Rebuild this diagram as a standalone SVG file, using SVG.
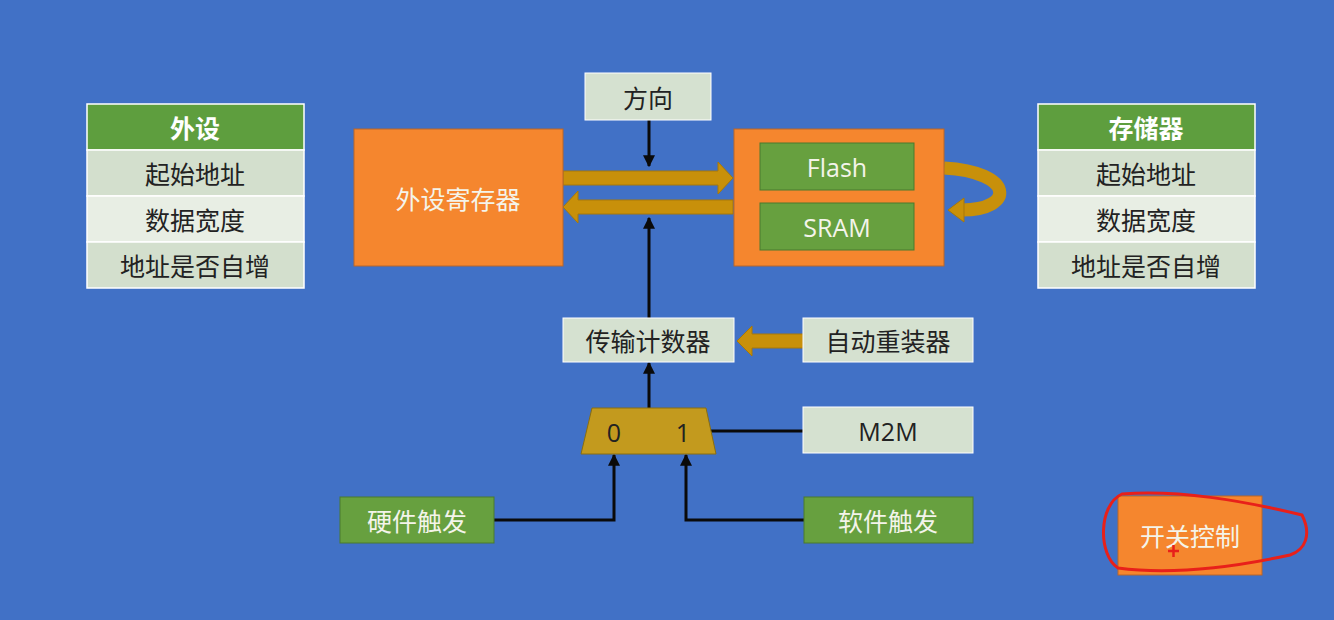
<svg xmlns="http://www.w3.org/2000/svg" width="1334" height="620" viewBox="0 0 1334 620">
<style>
text{font-family:"Noto Sans CJK SC","Liberation Sans",sans-serif;font-size:25px;text-anchor:middle;dominant-baseline:central}
.hd{fill:#5E9E3E;stroke:#fff;stroke-width:1.5}
.hdt{fill:#fff;font-weight:bold}
.r1{fill:#D3DFCD;stroke:#fff;stroke-width:1.5}
.r2{fill:#E8EEE4;stroke:#fff;stroke-width:1.5}
.lt{fill:#D5E1D0;stroke:#fff;stroke-width:1}
.dk{fill:#222}
.org{fill:#F5862E;stroke:#B8662A;stroke-width:1}
.grn{fill:#67A03F;stroke:#4A7A2E;stroke-width:1}
.wt{fill:#F4F4EA}
.bus{fill:#C8900A;stroke:#A87808;stroke-width:1}
.ln{stroke:#0A0A0A;stroke-width:3;fill:none}
</style>
<defs><marker id="ah" viewBox="0 0 10 10" refX="9" refY="5" markerWidth="4" markerHeight="4" orient="auto"><path d="M0,0L10,5L0,10z" fill="#0A0A0A"/></marker></defs>
<rect width="1334" height="620" fill="#4171C6"/>
<g id="peripheral-table">
<rect class="hd" x="87" y="104" width="217" height="46"/><text class="hdt" x="195" y="127">外设</text>
<rect class="r1" x="87" y="150" width="217" height="46"/><text class="dk" x="195" y="173">起始地址</text>
<rect class="r2" x="87" y="196" width="217" height="46"/><text class="dk" x="195" y="219">数据宽度</text>
<rect class="r1" x="87" y="242" width="217" height="46"/><text class="dk" x="195" y="265">地址是否自增</text>
</g>
<g id="memory-table">
<rect class="hd" x="1038" y="104" width="217" height="46"/><text class="hdt" x="1146" y="127">存储器</text>
<rect class="r1" x="1038" y="150" width="217" height="46"/><text class="dk" x="1146" y="173">起始地址</text>
<rect class="r2" x="1038" y="196" width="217" height="46"/><text class="dk" x="1146" y="219">数据宽度</text>
<rect class="r1" x="1038" y="242" width="217" height="46"/><text class="dk" x="1146" y="265">地址是否自增</text>
</g>
<g id="connectors">
<polygon class="bus" points="563,171 718,171 718,162 733,178 718,194 718,185 563,185"/>
<polygon class="bus" points="733,200 578,200 578,191 563,207 578,223 578,214 733,214"/>
<polygon class="bus" points="803,334 752,334 752,326 737,341 752,356 752,348 803,348"/>
<path d="M944,168 C1015,172 1015,210 962,210" fill="none" stroke="#C8900A" stroke-width="13"/>
<polygon class="bus" points="964,198 948,210 964,222"/>
<line class="ln" x1="649" y1="120" x2="649" y2="166" marker-end="url(#ah)"/>
<line class="ln" x1="649" y1="318" x2="649" y2="218" marker-end="url(#ah)"/>
<line class="ln" x1="649" y1="408" x2="649" y2="363" marker-end="url(#ah)"/>
<line class="ln" x1="706" y1="431" x2="803" y2="431"/>
<polyline class="ln" points="494,520 614,520 614,455" marker-end="url(#ah)"/>
<polyline class="ln" points="804,520 686,520 686,455" marker-end="url(#ah)"/>
</g>
<g id="direction"><rect class="lt" x="585" y="73" width="126" height="47"/><text class="dk" x="648" y="97">方向</text></g>
<g id="periph-reg"><rect class="org" x="354" y="129" width="209" height="137"/><text class="wt" x="458" y="198">外设寄存器</text></g>
<g id="memory"><rect class="org" x="734" y="129" width="210" height="137"/>
<rect class="grn" x="760" y="143" width="154" height="47"/><text class="wt" x="837" y="167" style="font-family:'Open Sans','Liberation Sans',sans-serif">Flash</text>
<rect class="grn" x="760" y="203" width="154" height="47"/><text class="wt" x="837" y="227" style="font-family:'Open Sans','Liberation Sans',sans-serif">SRAM</text></g>
<g id="counter"><rect class="lt" x="563" y="318" width="171" height="44"/><text class="dk" x="648" y="340">传输计数器</text></g>
<g id="reload"><rect class="lt" x="803" y="318" width="170" height="44"/><text class="dk" x="888" y="340">自动重装器</text></g>
<g id="mux"><polygon points="592,408 706,408 716,454 581,454" fill="#C39A1E" stroke="#8A6E10" stroke-width="1"/>
<text class="dk" x="614" y="432" style="font-family:'Open Sans','Liberation Sans',sans-serif">0</text><text class="dk" x="683" y="432" style="font-family:'Open Sans','Liberation Sans',sans-serif">1</text></g>
<g id="m2m"><rect class="lt" x="803" y="407" width="170" height="46"/><text class="dk" x="888" y="431" style="font-family:'Open Sans','Liberation Sans',sans-serif">M2M</text></g>
<g id="hw"><rect class="grn" x="340" y="497" width="154" height="46"/><text class="wt" x="417" y="520">硬件触发</text></g>
<g id="sw"><rect class="grn" x="804" y="497" width="169" height="46"/><text class="wt" x="888" y="520">软件触发</text></g>
<g id="switch"><rect class="org" x="1118" y="496" width="144" height="79"/><text class="wt" x="1190" y="535">开关控制</text>
<path d="M1122,494 C1180,490 1240,500 1302,515 C1312,535 1305,550 1290,555 C1230,568 1170,575 1118,568 C1098,555 1098,505 1122,494Z" fill="none" stroke="#E8201A" stroke-width="3"/>
<path d="M1168,551h11M1173.5,545v12" stroke="#E8201A" stroke-width="2.5"/></g>
</svg>
